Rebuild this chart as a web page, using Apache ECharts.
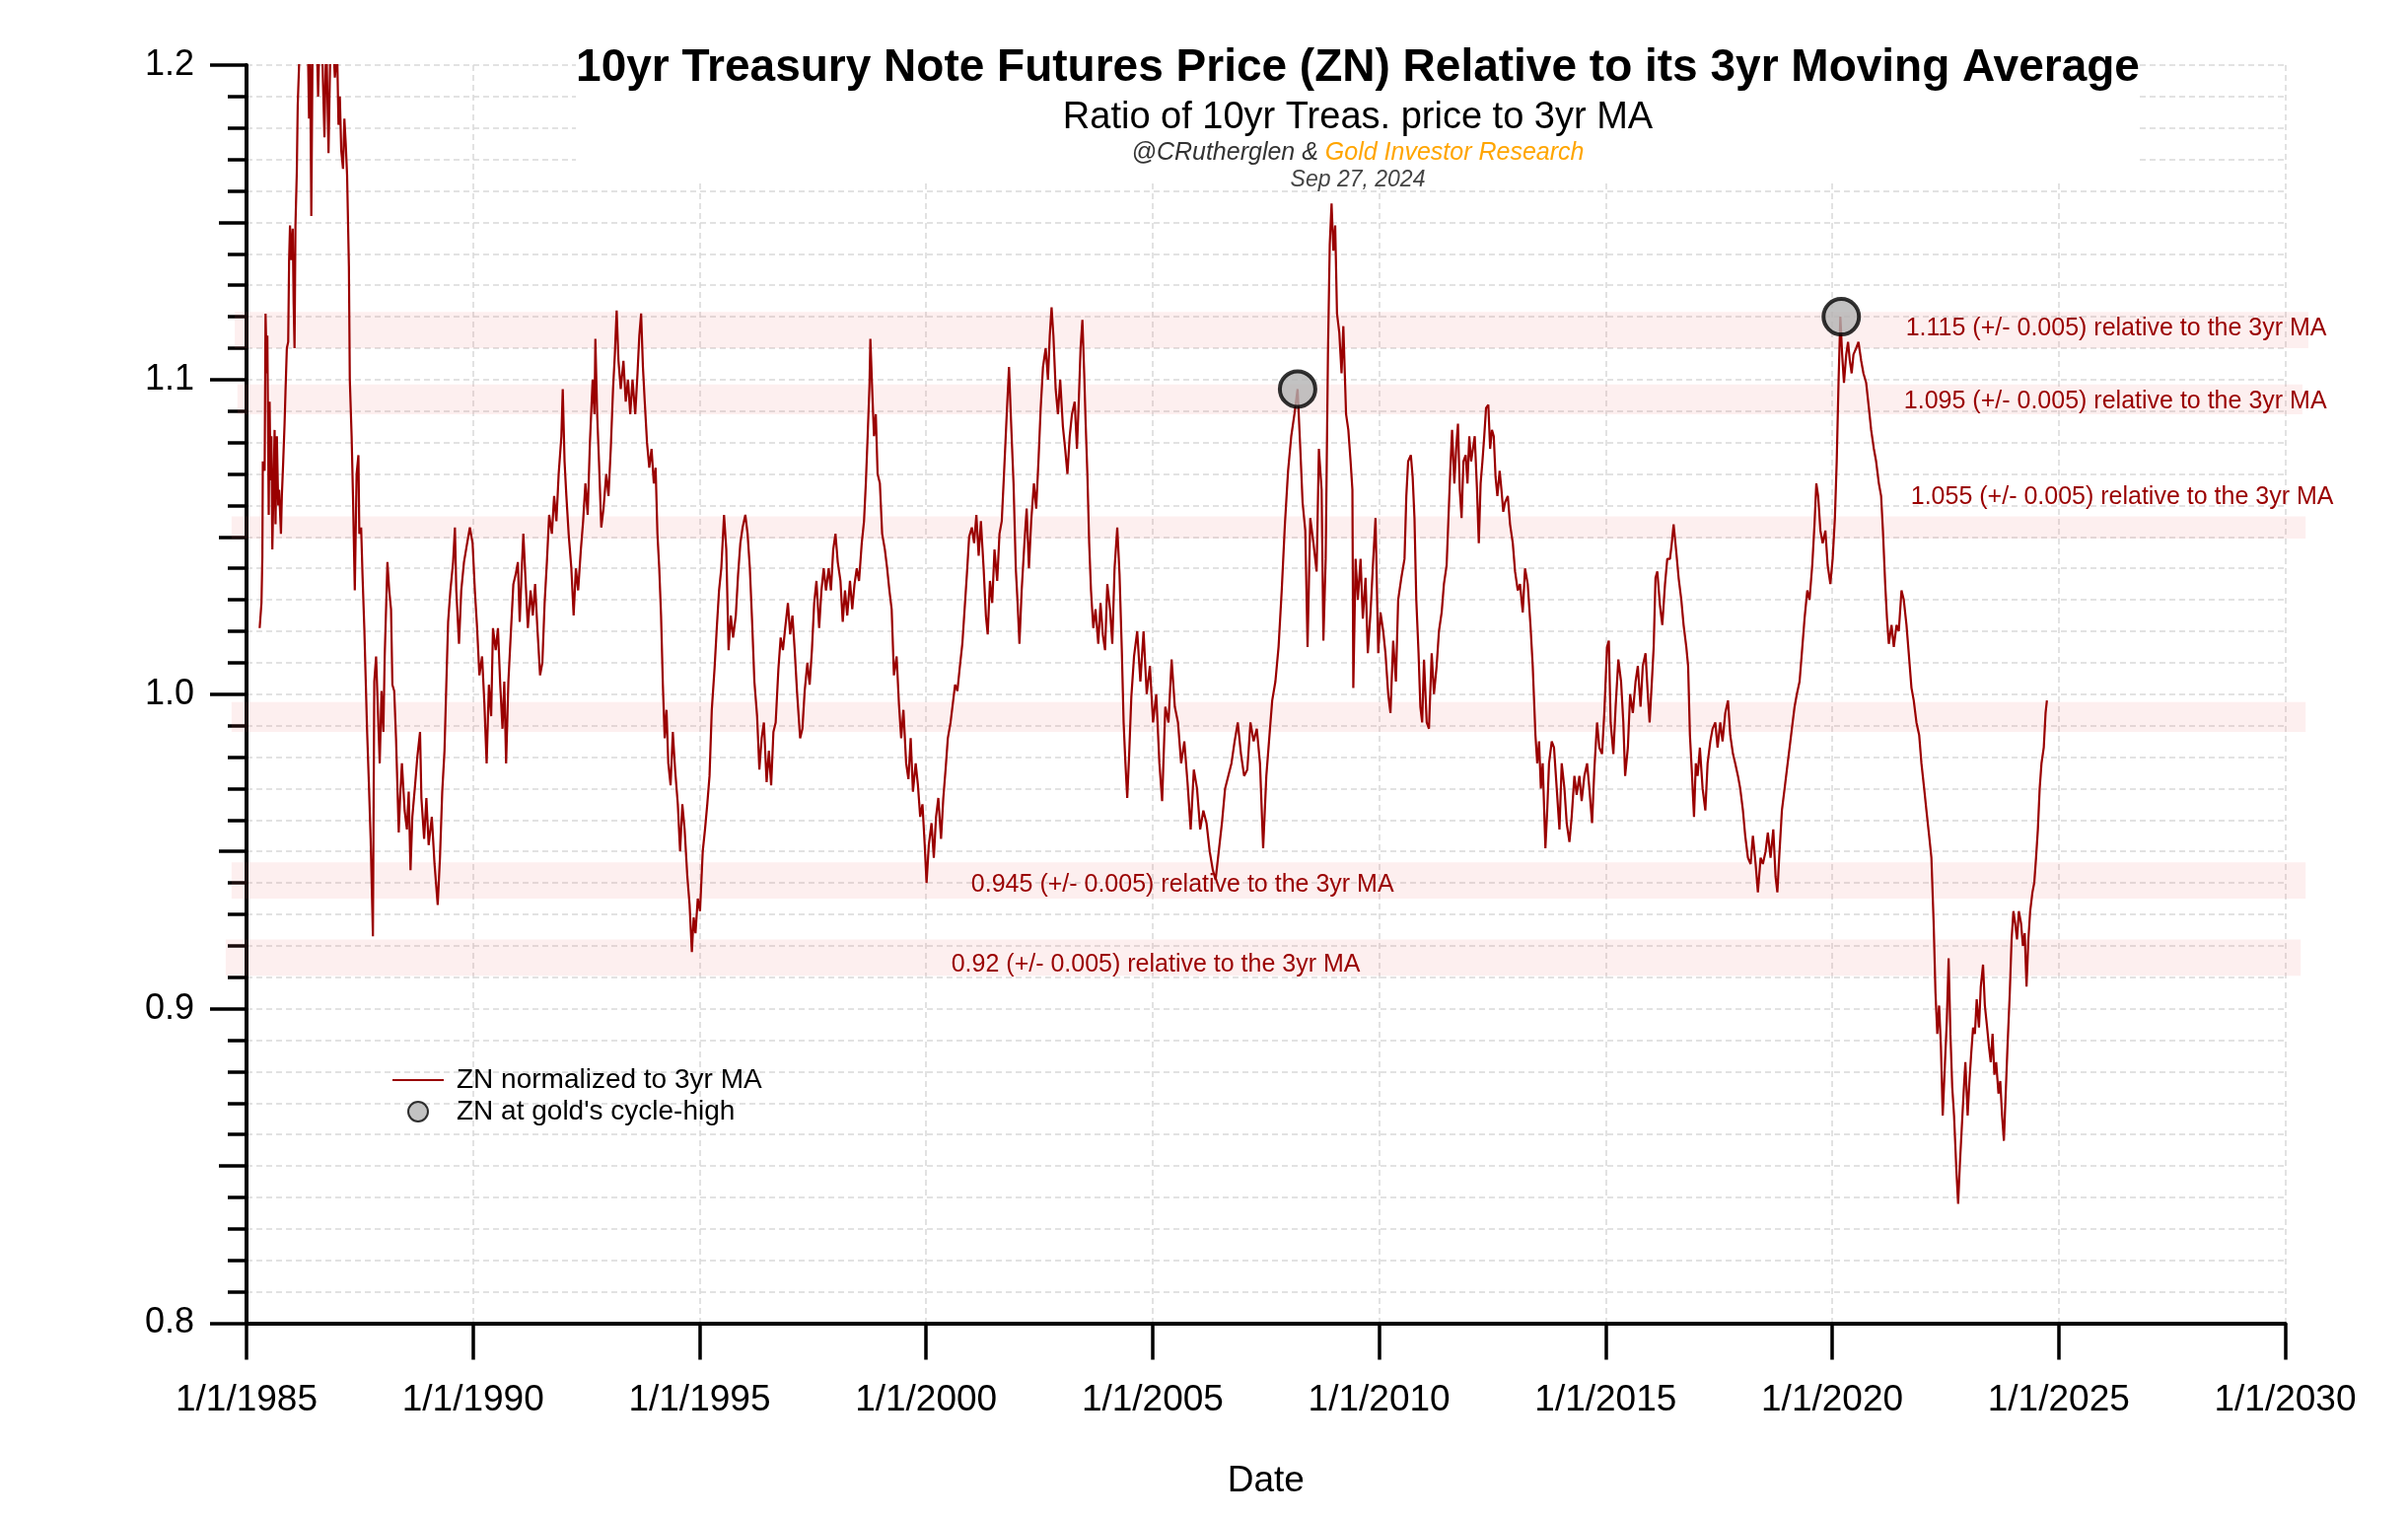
<!DOCTYPE html>
<html>
<head>
<meta charset="utf-8">
<title>ZN relative to 3yr MA</title>
<script src="https://cdn.jsdelivr.net/npm/echarts@6.0.0/dist/echarts.min.js"></script>
<style>
  html, body { margin: 0; padding: 0; background: #fff; }
  #chart { width: 2442px; height: 1541px; }
</style>
</head>
<body>
<div id="chart"></div>
<script>
// ZN / 3yr MA ratio ([decimal year, ratio])
const zn1985 = [
  [1985.29,1.021],[1985.33,1.029],[1985.35,1.044],[1985.36,1.074],[1985.40,1.071],[1985.42,1.121],[1985.45,1.102],[1985.46,1.114],
  [1985.49,1.057],[1985.51,1.093],[1985.53,1.068],[1985.55,1.082],[1985.57,1.046],[1985.59,1.061],[1985.62,1.084],[1985.64,1.054],
  [1985.67,1.082],[1985.70,1.060],[1985.72,1.065],[1985.76,1.051],[1985.78,1.063],[1985.81,1.074],[1985.84,1.086],[1985.86,1.096],
  [1985.89,1.110],[1985.92,1.112],[1985.94,1.138],[1985.96,1.149],[1985.99,1.138],[1986.02,1.148],[1986.04,1.124],[1986.06,1.110],
  [1986.08,1.149],[1986.11,1.166],[1986.13,1.187],[1986.16,1.200],[1986.20,1.215],[1986.25,1.225],[1986.30,1.205],[1986.34,1.220],
  [1986.38,1.183],[1986.40,1.210],[1986.43,1.152],[1986.46,1.210],[1986.50,1.230],[1986.55,1.210],[1986.58,1.190],[1986.62,1.215],
  [1986.67,1.205],[1986.72,1.177],[1986.76,1.210],[1986.81,1.172],[1986.85,1.205],[1986.90,1.212],[1986.95,1.196],[1987.00,1.205],
  [1987.03,1.181],[1987.06,1.190],[1987.09,1.173],[1987.13,1.167],[1987.16,1.183],[1987.19,1.175],[1987.22,1.165],[1987.26,1.136],
  [1987.28,1.100],[1987.32,1.082],[1987.35,1.063],[1987.39,1.033],[1987.43,1.070],[1987.47,1.076],[1987.49,1.051],[1987.53,1.053],
  [1987.56,1.038],[1987.60,1.021],[1987.63,1.005],[1987.66,0.989],[1987.70,0.972],[1987.74,0.954],[1987.79,0.923],[1987.82,1.004],
  [1987.86,1.012],[1987.90,0.995],[1987.94,0.978],[1987.98,1.001],[1988.02,0.988],[1988.05,1.012],[1988.11,1.042],[1988.15,1.033],
  [1988.19,1.027],[1988.22,1.003],[1988.26,1.001],[1988.30,0.986],[1988.36,0.956],[1988.39,0.967],[1988.43,0.978],[1988.49,0.963],
  [1988.54,0.957],[1988.58,0.969],[1988.62,0.944],[1988.66,0.961],[1988.72,0.971],[1988.77,0.980],[1988.83,0.988],[1988.86,0.967],
  [1988.92,0.954],[1988.97,0.967],[1989.02,0.952],[1989.09,0.961],[1989.15,0.946],[1989.22,0.933],[1989.27,0.948],[1989.32,0.969],
  [1989.37,0.982],[1989.41,1.003],[1989.45,1.023],[1989.50,1.033],[1989.56,1.042],[1989.60,1.053],[1989.63,1.033],[1989.69,1.016],
  [1989.74,1.033],[1989.80,1.042],[1989.87,1.048],[1989.93,1.053]
];
const zn1990 = [
  [1989.99,1.048],[1990.04,1.033],[1990.09,1.021],[1990.14,1.006],[1990.20,1.012],[1990.25,0.997],[1990.30,0.978],[1990.35,1.003],
  [1990.40,0.993],[1990.44,1.021],[1990.50,1.014],[1990.55,1.021],[1990.60,1.003],[1990.65,0.989],[1990.69,1.004],[1990.73,0.978],
  [1990.78,1.004],[1990.84,1.021],[1990.89,1.035],[1990.94,1.038],[1990.99,1.042],[1991.03,1.023],[1991.07,1.038],[1991.11,1.051],
  [1991.16,1.036],[1991.21,1.021],[1991.27,1.033],[1991.32,1.025],[1991.37,1.035],[1991.42,1.021],[1991.48,1.006],[1991.53,1.010],
  [1991.58,1.029],[1991.63,1.042],[1991.68,1.057],[1991.74,1.051],[1991.79,1.063],[1991.84,1.055],[1991.89,1.070],[1991.95,1.082],
  [1991.98,1.097],[1992.02,1.074],[1992.06,1.063],[1992.11,1.051],[1992.17,1.040],[1992.22,1.025],[1992.27,1.040],[1992.32,1.033],
  [1992.38,1.046],[1992.43,1.055],[1992.48,1.067],[1992.53,1.057],[1992.58,1.080],[1992.64,1.100],[1992.68,1.089],[1992.70,1.113],
  [1992.74,1.089],[1992.78,1.074],[1992.83,1.053],[1992.88,1.059],[1992.94,1.070],[1992.99,1.063],[1993.04,1.078],[1993.09,1.097],
  [1993.13,1.108],[1993.17,1.122],[1993.21,1.106],[1993.26,1.097],[1993.32,1.106],[1993.37,1.093],[1993.42,1.100],[1993.47,1.089],
  [1993.52,1.100],[1993.58,1.089],[1993.63,1.102],[1993.67,1.114],[1993.71,1.121],[1993.75,1.104],[1993.79,1.093],[1993.84,1.080],
  [1993.89,1.072],[1993.94,1.078],[1993.99,1.067],[1994.03,1.072],[1994.07,1.051],[1994.11,1.040],[1994.15,1.025],[1994.19,1.003],
  [1994.23,0.986],[1994.27,0.995],[1994.31,0.978],[1994.36,0.971],[1994.41,0.988],[1994.46,0.976],[1994.52,0.965],[1994.57,0.950],
  [1994.62,0.965],[1994.67,0.957],[1994.73,0.942],[1994.78,0.933],[1994.83,0.918],[1994.87,0.929],[1994.91,0.924],[1994.96,0.935],
  [1995.01,0.931],[1995.07,0.950],[1995.12,0.957],[1995.17,0.965],[1995.22,0.974],[1995.27,0.995],[1995.33,1.008],[1995.38,1.021],
  [1995.43,1.033],[1995.48,1.040],[1995.54,1.057],[1995.59,1.046],[1995.64,1.014],[1995.69,1.025],[1995.74,1.018],[1995.80,1.025],
  [1995.85,1.038],[1995.90,1.048],[1995.95,1.053],[1996.01,1.057],[1996.06,1.051],[1996.11,1.040],[1996.16,1.023],[1996.21,1.004],
  [1996.27,0.993],[1996.32,0.976],[1996.37,0.986],[1996.42,0.991],[1996.48,0.972],[1996.53,0.982],[1996.58,0.971],[1996.63,0.988],
  [1996.68,0.991],[1996.74,1.008],[1996.79,1.018],[1996.84,1.014],[1996.89,1.021],[1996.95,1.029],[1997.00,1.019],[1997.05,1.025],
  [1997.10,1.014],[1997.15,1.001],[1997.22,0.986],[1997.27,0.989],[1997.32,1.001],[1997.38,1.010],[1997.43,1.003],[1997.48,1.014],
  [1997.53,1.029],[1997.58,1.036],[1997.64,1.021],[1997.69,1.033],[1997.74,1.040],[1997.79,1.033],[1997.85,1.040],[1997.90,1.033],
  [1997.95,1.046],[1998.00,1.051],[1998.05,1.042],[1998.11,1.036],[1998.16,1.023],[1998.21,1.033],[1998.26,1.025],[1998.32,1.036],
  [1998.37,1.027],[1998.42,1.035],[1998.47,1.040],[1998.52,1.036],[1998.58,1.048],[1998.63,1.055],[1998.67,1.067],[1998.71,1.082],
  [1998.75,1.098],[1998.77,1.113],[1998.81,1.097],[1998.85,1.082],[1998.89,1.089],[1998.93,1.070],[1998.98,1.067],[1999.03,1.051],
  [1999.09,1.046],[1999.14,1.040],[1999.19,1.033],[1999.24,1.027],[1999.29,1.006],[1999.35,1.012],[1999.40,0.997],[1999.45,0.986],
  [1999.50,0.995],[1999.56,0.978],[1999.61,0.973],[1999.66,0.986],[1999.71,0.969],[1999.77,0.978],[1999.82,0.971],[1999.87,0.961],
  [1999.92,0.965],[1999.97,0.952]
];
const zn2000 = [
  [2000.01,0.940],[2000.06,0.952],[2000.12,0.959],[2000.17,0.948],[2000.22,0.961],[2000.27,0.967],[2000.33,0.954],[2000.38,0.967],
  [2000.43,0.976],[2000.48,0.986],[2000.54,0.991],[2000.59,0.997],[2000.64,1.003],[2000.69,1.001],[2000.74,1.008],[2000.80,1.016],
  [2000.85,1.027],[2000.90,1.038],[2000.95,1.050],[2001.01,1.053],[2001.06,1.048],[2001.11,1.057],[2001.16,1.044],[2001.21,1.055],
  [2001.27,1.040],[2001.32,1.025],[2001.36,1.019],[2001.41,1.036],[2001.46,1.029],[2001.51,1.046],[2001.57,1.036],[2001.62,1.051],
  [2001.67,1.055],[2001.72,1.070],[2001.78,1.089],[2001.83,1.104],[2001.88,1.085],[2001.93,1.067],[2001.98,1.040],[2002.02,1.029],
  [2002.06,1.016],[2002.11,1.033],[2002.17,1.048],[2002.22,1.059],[2002.27,1.040],[2002.32,1.055],[2002.38,1.067],[2002.43,1.059],
  [2002.48,1.074],[2002.53,1.091],[2002.58,1.104],[2002.64,1.110],[2002.69,1.100],[2002.73,1.114],[2002.77,1.123],[2002.81,1.114],
  [2002.86,1.097],[2002.91,1.089],[2002.96,1.100],[2003.02,1.085],[2003.07,1.078],[2003.12,1.070],[2003.17,1.082],[2003.22,1.089],
  [2003.28,1.093],[2003.33,1.078],[2003.37,1.093],[2003.41,1.110],[2003.45,1.119],[2003.49,1.102],[2003.52,1.087],[2003.56,1.070],
  [2003.60,1.048],[2003.64,1.033],[2003.69,1.021],[2003.74,1.027],[2003.80,1.016],[2003.85,1.029],[2003.90,1.019],[2003.95,1.014],
  [2004.00,1.035],[2004.06,1.027],[2004.11,1.016],[2004.16,1.040],[2004.22,1.053],[2004.27,1.038],[2004.32,1.014],[2004.36,0.991],
  [2004.40,0.978],[2004.44,0.967],[2004.48,0.980],[2004.53,0.999],[2004.59,1.012],[2004.66,1.020],[2004.73,1.004],[2004.80,1.020],
  [2004.87,1.000],[2004.94,1.009],[2005.01,0.991],[2005.08,1.000],[2005.15,0.978],[2005.21,0.966],[2005.28,0.996],[2005.35,0.991],
  [2005.42,1.011],[2005.49,0.996],[2005.56,0.991],[2005.63,0.978],[2005.70,0.985],[2005.77,0.972],[2005.84,0.957],[2005.91,0.976],
  [2005.98,0.970],[2006.05,0.957],[2006.12,0.963],[2006.19,0.959],[2006.26,0.950],[2006.33,0.944],[2006.39,0.941],[2006.46,0.950],
  [2006.53,0.959],[2006.60,0.970],[2006.67,0.974],[2006.74,0.978],[2006.81,0.985],[2006.88,0.991],[2006.95,0.981],[2007.02,0.974],
  [2007.09,0.976],[2007.16,0.991],[2007.23,0.985],[2007.30,0.989],[2007.37,0.978],[2007.44,0.951],[2007.51,0.974],[2007.58,0.987],
  [2007.64,0.998],[2007.71,1.004],[2007.78,1.015],[2007.85,1.033],[2007.92,1.054],[2007.99,1.071],[2008.06,1.082],[2008.13,1.089],
  [2008.20,1.097],[2008.26,1.078],[2008.31,1.061],[2008.37,1.052],[2008.42,1.015],[2008.48,1.056],[2008.55,1.048],[2008.62,1.039],
  [2008.67,1.078],[2008.73,1.065],[2008.77,1.017],[2008.82,1.043],[2008.87,1.108],[2008.91,1.143],[2008.95,1.156],[2008.99,1.141],
  [2009.03,1.149],[2009.07,1.121],[2009.12,1.115],[2009.17,1.102],[2009.21,1.117],[2009.27,1.089],[2009.32,1.084],[2009.37,1.074],
  [2009.41,1.065],[2009.43,1.002],[2009.48,1.043],[2009.53,1.030],[2009.59,1.043],[2009.64,1.024],[2009.70,1.037],[2009.75,1.013],
  [2009.81,1.026],[2009.87,1.043],[2009.92,1.056],[2009.98,1.013]
];
const zn2010 = [
  [2010.03,1.026],[2010.09,1.020],[2010.14,1.013],[2010.20,1.000],[2010.25,0.994],[2010.31,1.017],[2010.37,1.004],[2010.42,1.030],
  [2010.49,1.037],[2010.56,1.043],[2010.60,1.063],[2010.64,1.074],[2010.70,1.076],[2010.74,1.069],[2010.78,1.056],[2010.82,1.030],
  [2010.87,1.013],[2010.91,0.996],[2010.95,0.991],[2010.99,1.011],[2011.05,0.991],[2011.10,0.989],[2011.16,1.013],[2011.21,1.000],
  [2011.27,1.009],[2011.32,1.020],[2011.38,1.026],[2011.43,1.035],[2011.49,1.041],[2011.53,1.056],[2011.57,1.071],[2011.61,1.084],
  [2011.66,1.067],[2011.70,1.078],[2011.74,1.086],[2011.78,1.065],[2011.82,1.056],[2011.86,1.074],[2011.91,1.076],[2011.95,1.067],
  [2011.99,1.082],[2012.03,1.074],[2012.07,1.074],[2012.11,1.082],[2012.16,1.065],[2012.20,1.048],[2012.24,1.067],[2012.28,1.074],
  [2012.32,1.082],[2012.36,1.091],[2012.41,1.092],[2012.45,1.078],[2012.49,1.084],[2012.53,1.082],[2012.57,1.069],[2012.61,1.063],
  [2012.66,1.071],[2012.70,1.065],[2012.74,1.058],[2012.78,1.061],[2012.84,1.063],[2012.89,1.054],[2012.95,1.048],[2013.00,1.039],
  [2013.06,1.033],[2013.11,1.035],[2013.17,1.026],[2013.22,1.040],[2013.28,1.035],[2013.34,1.022],[2013.39,1.009],[2013.45,0.987],
  [2013.49,0.978],[2013.53,0.985],[2013.57,0.970],[2013.61,0.978],[2013.67,0.951],[2013.71,0.963],[2013.75,0.978],[2013.81,0.985],
  [2013.86,0.983],[2013.92,0.970],[2013.98,0.957],[2014.03,0.978],[2014.09,0.970],[2014.14,0.959],[2014.20,0.953],[2014.25,0.961],
  [2014.31,0.974],[2014.36,0.968],[2014.42,0.974],[2014.47,0.966],[2014.53,0.974],[2014.59,0.978],[2014.64,0.970],[2014.70,0.959],
  [2014.75,0.976],[2014.81,0.991],[2014.86,0.983],[2014.92,0.981],[2014.97,0.994],[2015.03,1.015],[2015.07,1.017],[2015.11,0.991],
  [2015.17,0.981],[2015.22,0.996],[2015.28,1.011],[2015.34,1.004],[2015.39,0.991],[2015.43,0.974],[2015.49,0.983],[2015.54,1.000],
  [2015.60,0.994],[2015.66,1.004],[2015.71,1.009],[2015.77,0.996],[2015.82,1.009],[2015.88,1.013],[2015.93,1.000],[2015.97,0.991],
  [2016.02,1.004],[2016.06,1.015],[2016.10,1.037],[2016.14,1.039],[2016.20,1.028],[2016.25,1.022],[2016.31,1.035],[2016.36,1.043],
  [2016.42,1.043],[2016.46,1.048],[2016.50,1.054],[2016.56,1.045],[2016.61,1.037],[2016.67,1.030],[2016.72,1.022],[2016.78,1.015],
  [2016.82,1.009],[2016.86,0.987],[2016.90,0.976],[2016.95,0.961],[2016.99,0.978],[2017.03,0.974],[2017.08,0.983],[2017.14,0.970],
  [2017.20,0.963],[2017.25,0.978],[2017.31,0.985],[2017.36,0.989],[2017.42,0.991],[2017.47,0.983],[2017.53,0.991],[2017.58,0.985],
  [2017.64,0.994],[2017.70,0.998],[2017.75,0.987],[2017.81,0.981],[2017.86,0.978],[2017.92,0.974],[2017.97,0.970],[2018.03,0.963],
  [2018.08,0.955],[2018.14,0.948],[2018.20,0.946],[2018.25,0.955],[2018.31,0.946],[2018.36,0.937],[2018.42,0.948],[2018.47,0.946],
  [2018.53,0.950],[2018.58,0.956],[2018.64,0.948],[2018.70,0.957],[2018.75,0.942],[2018.79,0.937],[2018.83,0.948],[2018.89,0.963],
  [2018.95,0.970],[2019.00,0.976],[2019.06,0.983],[2019.11,0.989],[2019.17,0.996],[2019.22,1.000],[2019.28,1.004],[2019.33,1.013],
  [2019.39,1.024],[2019.45,1.033],[2019.50,1.030],[2019.56,1.041],[2019.61,1.054],[2019.65,1.067],[2019.69,1.063],[2019.74,1.052],
  [2019.79,1.048],[2019.85,1.052],[2019.90,1.041],[2019.96,1.035]
];
const zn2020 = [
  [2020.01,1.043],[2020.06,1.056],[2020.10,1.074],[2020.14,1.099],[2020.18,1.120],[2020.22,1.108],[2020.26,1.099],[2020.31,1.108],
  [2020.35,1.112],[2020.39,1.106],[2020.43,1.102],[2020.47,1.108],[2020.53,1.110],[2020.58,1.112],[2020.64,1.106],[2020.69,1.102],
  [2020.75,1.099],[2020.81,1.091],[2020.86,1.084],[2020.92,1.078],[2020.97,1.074],[2021.03,1.067],[2021.08,1.063],[2021.12,1.052],
  [2021.17,1.035],[2021.21,1.024],[2021.25,1.016],[2021.31,1.022],[2021.36,1.015],[2021.42,1.022],[2021.47,1.020],[2021.53,1.033],
  [2021.58,1.030],[2021.64,1.022],[2021.69,1.013],[2021.75,1.002],[2021.80,0.998],[2021.86,0.991],[2021.92,0.987],[2021.97,0.978],
  [2022.03,0.970],[2022.08,0.963],[2022.14,0.955],[2022.19,0.948],[2022.24,0.927],[2022.28,0.905],[2022.32,0.892],[2022.36,0.901],
  [2022.40,0.888],[2022.44,0.866],[2022.49,0.883],[2022.53,0.896],[2022.57,0.916],[2022.61,0.892],[2022.65,0.875],[2022.69,0.866],
  [2022.74,0.849],[2022.78,0.838],[2022.82,0.851],[2022.86,0.862],[2022.90,0.873],[2022.94,0.883],[2022.99,0.866],[2023.03,0.877],
  [2023.07,0.886],[2023.11,0.894],[2023.15,0.892],[2023.19,0.903],[2023.24,0.894],[2023.28,0.907],[2023.33,0.914],[2023.37,0.901],
  [2023.42,0.894],[2023.46,0.888],[2023.50,0.883],[2023.54,0.892],[2023.58,0.879],[2023.62,0.883],[2023.67,0.873],[2023.71,0.877],
  [2023.75,0.866],[2023.79,0.858],[2023.83,0.873],[2023.87,0.888],[2023.92,0.905],[2023.96,0.922],[2024.00,0.931],[2024.04,0.927],
  [2024.08,0.922],[2024.12,0.931],[2024.17,0.927],[2024.21,0.920],[2024.25,0.924],[2024.29,0.907],[2024.33,0.922],[2024.37,0.931],
  [2024.42,0.937],[2024.46,0.940],[2024.50,0.948],[2024.54,0.957],[2024.58,0.970],[2024.62,0.978],[2024.67,0.983],[2024.71,0.994],
  [2024.74,0.998]
];

// ZN at gold's cycle highs
const cycleHighs = [[2008.20, 1.097], [2020.20, 1.120]];

// shaded ratio bands: [fromYear, toYear, low, high]
const bands = [
  [1984.74, 2030.51, 1.1100, 1.1215],
  [1984.80, 2030.38, 1.0890, 1.0985],
  [1984.67, 2030.45, 1.0495, 1.0565],
  [1984.67, 2030.45, 0.9880, 0.9975],
  [1984.67, 2030.45, 0.9350, 0.9465],
  [1984.54, 2030.34, 0.9105, 0.9220]
];
const bandLabels = [
  '1.115 (+/- 0.005) relative to the 3yr MA',
  '1.095 (+/- 0.005) relative to the 3yr MA',
  '1.055 (+/- 0.005) relative to the 3yr MA',
  '0.945 (+/- 0.005) relative to the 3yr MA',
  '0.92 (+/- 0.005) relative to the 3yr MA'
];
const bandLabelAt = [[2026.27, 1.1163], [2026.25, 1.0931], [2026.40, 1.0627], [2005.66, 0.9394], [2005.07, 0.9140]];

const xTicks = { min: 1985, max: 2030, step: 5 };
const yTicks = { min: 0.8, max: 1.2, step: 0.1 };

const zn = [].concat(zn1985, zn1990, zn2000, zn2010, zn2020);

const FONT = '"Liberation Sans", Arial, sans-serif';
const RED = '#9a0000';
const gridLine = { color: '#d9d9d9', width: 1.5, type: [6, 4] };

const chart = echarts.init(document.getElementById('chart'));

const option = {
  animation: false,
  backgroundColor: '#fff',
  textStyle: { fontFamily: FONT },
  title: [
    {
      text: '10yr Treasury Note Futures Price (ZN) Relative to its 3yr Moving Average',
      left: 1377, top: 40, textAlign: 'center',
      backgroundColor: '#fff', padding: [6, 0, 92, 0],
      textStyle: { fontSize: 46, fontWeight: 'bold', color: '#000', fontFamily: FONT }
    },
    {
      text: 'Ratio of 10yr Treas. price to 3yr MA',
      left: 1377, top: 101, textAlign: 'center', padding: 0,
      textStyle: { fontSize: 38, fontWeight: 'normal', color: '#000', fontFamily: FONT }
    },
    {
      text: '{a|@CRutherglen & }{b|Gold Investor Research}',
      left: 1377, top: 143, textAlign: 'center', padding: 0,
      textStyle: {
        fontSize: 25, fontWeight: 'normal', fontStyle: 'italic', fontFamily: FONT,
        rich: {
          a: { fontSize: 25, fontWeight: 'normal', fontStyle: 'italic', color: '#333', fontFamily: FONT },
          b: { fontSize: 25, fontWeight: 'normal', fontStyle: 'italic', color: '#FFA500', fontFamily: FONT }
        }
      }
    },
    {
      text: 'Sep 27, 2024',
      left: 1377, top: 171, textAlign: 'center', padding: 0,
      textStyle: { fontSize: 23, fontStyle: 'italic', fontWeight: 'normal', color: '#444', fontFamily: FONT }
    }
  ],
  legend: {
    orient: 'vertical', left: 392, top: 1076,
    itemWidth: 52, itemHeight: 20, itemGap: 4,
    textStyle: { fontSize: 28, color: '#000', fontFamily: FONT, padding: [0, 0, 0, 8] },
    data: [
      { name: 'ZN normalized to 3yr MA', itemStyle: { opacity: 0 } },
      { name: "ZN at gold's cycle-high" }
    ]
  },
  grid: { left: 250, right: 124.5, top: 66, bottom: 199.5, containLabel: false },
  xAxis: {
    type: 'value', min: xTicks.min, max: xTicks.max, interval: xTicks.step,
    name: 'Date', nameLocation: 'middle', nameGap: 142,
    nameTextStyle: { fontSize: 37, color: '#000', fontFamily: FONT },
    axisLine: { show: true, onZero: false, lineStyle: { color: '#000', width: 4 } },
    axisTick: { show: true, length: 37, lineStyle: { color: '#000', width: 3.5 } },
    axisLabel: {
      fontSize: 37, color: '#000', margin: 60, showMinLabel: true, showMaxLabel: true,
      formatter: v => '1/1/' + v
    },
    splitLine: { show: true, lineStyle: gridLine }
  },
  yAxis: [
    {
      type: 'value', min: yTicks.min, max: yTicks.max, interval: yTicks.step,
      axisLine: { show: true, lineStyle: { color: '#000', width: 4 } },
      axisTick: { show: true, length: 37, lineStyle: { color: '#000', width: 3.5 } },
      minorTick: { show: true, splitNumber: 10, length: 19, lineStyle: { color: '#000', width: 3.5 } },
      axisLabel: { fontSize: 36, color: '#000', margin: 53, formatter: v => v.toFixed(1) },
      splitLine: { show: true, lineStyle: gridLine },
      minorSplitLine: { show: true, lineStyle: gridLine }
    },
    {
      // medium ticks every 0.05
      type: 'value', min: yTicks.min, max: yTicks.max, interval: yTicks.step / 2, position: 'left',
      axisLine: { show: false },
      axisTick: { show: true, length: 28, lineStyle: { color: '#000', width: 3.5 } },
      axisLabel: { show: false },
      splitLine: { show: false }
    }
  ],
  series: [
    {
      name: 'bands', type: 'custom', silent: true, z: 1,
      data: bands,
      encode: { x: [0, 1], y: [2, 3] },
      renderItem: (params, api) => {
        const p0 = api.coord([api.value(0), api.value(3)]);
        const p1 = api.coord([api.value(1), api.value(2)]);
        return {
          type: 'rect',
          shape: { x: p0[0], y: p0[1], width: p1[0] - p0[0], height: p1[1] - p0[1] },
          style: { fill: 'rgba(240,100,100,0.1)' }
        };
      }
    },
    {
      name: 'band labels', type: 'custom', silent: true, z: 3,
      data: bandLabelAt,
      encode: { x: 0, y: 1 },
      renderItem: (params, api) => {
        const p = api.coord([api.value(0), api.value(1)]);
        return {
          type: 'text',
          x: p[0], y: p[1],
          style: {
            text: bandLabels[params.dataIndex],
            fill: RED, fontSize: 25, fontFamily: FONT,
            align: 'center', verticalAlign: 'middle'
          }
        };
      }
    },
    {
      name: "ZN at gold's cycle-high", type: 'scatter', z: 4,
      data: cycleHighs,
      symbol: 'circle', symbolSize: 36,
      itemStyle: { color: '#b3b3b3', borderColor: '#000', borderWidth: 4 }
    },
    {
      name: 'ZN normalized to 3yr MA', type: 'line', z: 4,
      data: zn,
      symbol: 'none', showSymbol: false,
      lineStyle: { color: RED, width: 2.2 },
      itemStyle: { color: RED }
    }
  ]
};

chart.setOption(option);
</script>
</body>
</html>
